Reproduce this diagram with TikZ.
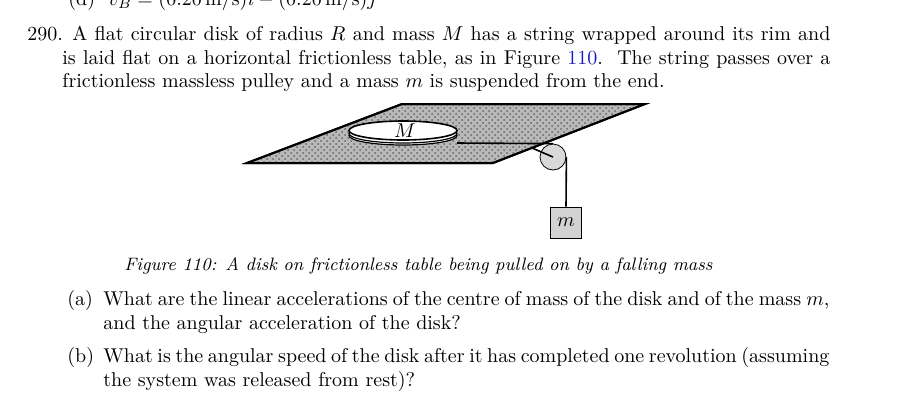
\documentclass[tikz,border=0pt]{standalone}
\usepackage{xcolor}
\usetikzlibrary{patterns}
\definecolor{linkblue}{rgb}{0.1,0.1,0.75}
\begin{document}
\begin{tikzpicture}[x=0.5pt,y=-0.5pt,
  txt/.style={anchor=base west,inner sep=0pt}]
\path[use as bounding box] (0,0) rectangle (910,408);
\clip (0,0) rectangle (910,408);
\node[txt] (prev) at (68,5) {(d)\ \ $\vec v_B=(0.20\,\mathrm{m/s})\hat\imath-(0.20\,\mathrm{m/s})\hat\jmath$};
% problem text
\node[txt] (num) at (27,40) {290.};
\node[txt] (l1) at (72,40) {\makebox[379pt][s]{A flat circular disk of radius $R$ and mass $M$ has a string wrapped around its rim and}};
\node[txt] (l2) at (62,64) {\makebox[384pt][s]{is laid flat on a horizontal frictionless table, as in Figure \textcolor{linkblue}{110}.\ \ The string passes over a}};
\node[txt] (l3) at (62,87) {frictionless massless pulley and a mass $m$ is suspended from the end.};
% table
\path[draw,line width=1pt,fill=gray!55] (402,104) -- (645,104) -- (493,163) -- (247,163) -- cycle;
\fill[pattern=crosshatch dots, pattern color=black!60] (402,104) -- (645,104) -- (493,163) -- (247,163) -- cycle;
\draw[line width=1pt] (402,104) -- (645,104) -- (493,163) -- (247,163) -- cycle;
% disk
\foreach \dy in {5,3}{\draw[fill=white,line width=0.6pt] (403,130.5+\dy) ellipse [x radius=54, y radius=9.5];}
\draw[fill=white,line width=0.8pt] (403,130.5) ellipse [x radius=54, y radius=9.5];
\node[inner sep=0pt] (M) at (405,131) {$M$};
% pulley
\coordinate (s0) at (457,143);
\coordinate (br) at (532,148);
\node[circle,draw,fill=gray!30,minimum size=13pt,inner sep=0pt] (p) at (553,157) {};
\draw[line width=0.8pt] (br) -- (p.center);
\draw[line width=0.8pt] (s0) -- (p.north);
\node[draw,fill=gray!35,minimum width=15.5pt,minimum height=15.5pt,inner sep=0pt] (m) at (566,222.5) {$m$};
\draw[line width=0.8pt] (p.east) -- (m.north);
% caption
\node[txt] (cap) at (124,270) {\small\itshape Figure 110: A disk on frictionless table being pulled on by a falling mass};
% questions
\node[txt] (qa) at (67,305) {(a)};
\node[txt] (qa1) at (103,305) {\makebox[363pt][s]{What are the linear accelerations of the centre of mass of the disk and of the mass $m$,}};
\node[txt] (qa2) at (103,329) {and the angular acceleration of the disk?};
\node[txt] (qb) at (67,362) {(b)};
\node[txt] (qb1) at (103,362) {\makebox[363pt][s]{What is the angular speed of the disk after it has completed one revolution (assuming}};
\node[txt] (qb2) at (103,386) {the system was released from rest)?};
\end{tikzpicture}
\end{document}
